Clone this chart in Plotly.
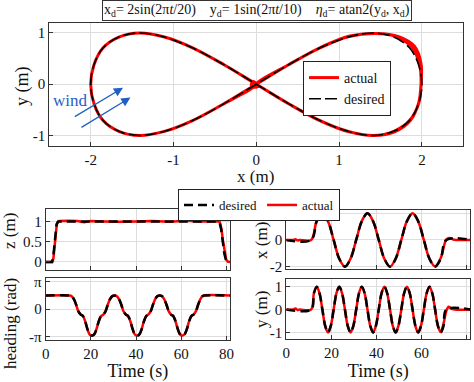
import plotly.graph_objects as go

# ---------------- data ----------------
# top: x-y path (figure eight)
path_x_des = [0, .39, .77, 1.11, 1.41, 1.66, 1.85, 1.96, 2, 1.96, 1.85, 1.66, 1.41, 1.11, .77, .39,
              0, -.39, -.77, -1.11, -1.41, -1.66, -1.85, -1.96, -2, -1.96, -1.85, -1.66, -1.41, -1.11, -.77, -.39, 0]
path_y_des = [0, .38, .71, .92, 1, .92, .71, .38, 0, -.38, -.71, -.92, -1, -.92, -.71, -.38,
              0, .38, .71, .92, 1, .92, .71, .38, 0, -.38, -.71, -.92, -1, -.92, -.71, -.38, 0]
path_x_act = [0, -.04, -.06, -.02, .03, 0, .39, .78, 1.13, 1.45, 1.72, 1.91, 1.99, 1.99, 1.96, 1.86, 1.67, 1.42, 1.12, .78, .40,
              0, -.39, -.77, -1.11, -1.41, -1.66, -1.85, -1.96, -2.0, -1.96, -1.85, -1.66, -1.41, -1.11, -.77, -.39,
              0, .39, .77, 1.12, 1.43, 1.69, 1.88, 1.97, 1.99, 1.96, 1.85, 1.66, 1.41, 1.11, .77, .39,
              0, -.39, -.77, -1.11, -1.41, -1.66, -1.85, -1.96, -2, -1.96, -1.85, -1.66, -1.41, -1.11, -.77, -.39, 0]
path_y_act = [0, .05, -.02, -.06, -.03, 0, .38, .72, .94, .99, .93, .74, .40, .02, -.37, -.71, -.93, -1.0, -.93, -.72, -.39,
              0, .38, .71, .92, 1, .92, .71, .38, 0, -.38, -.71, -.92, -1, -.92, -.71, -.38,
              0, .38, .71, .93, .99, .93, .72, .39, 0, -.38, -.71, -.92, -1, -.92, -.71, -.38,
              0, .38, .71, .92, 1, .92, .71, .38, 0, -.38, -.71, -.92, -1, -.92, -.71, -.38, 0]

# z(t)
t_z_des = [0, 2.8, 3.3, 3.8, 4.3, 4.8, 5.4, 6, 76.3, 77, 77.7, 78.4, 79.1, 79.8, 80.5, 81.6]
z_des = [0, 0, .1, .4, .75, .93, .99, 1, 1, .97, .8, .5, .2, .05, 0, 0]
t_z_act = [0, 2.9, 3.4, 3.9, 4.4, 4.9, 5.5, 6, 10, 14, 17, 20, 26, 32, 40, 47, 55, 62, 68, 74, 76.4, 77.1, 77.8, 78.5, 79.2, 79.9, 80.6, 81.6]
z_act = [0, 0, .08, .36, .72, .92, 1.0, 1.01, 1.02, 1.01, .98, 1.01, 1.0, .99, 1.0, 1.01, .99, 1.02, 1.0, 1.01, 1.0, .98, .82, .52, .22, .06, .01, 0]

# heading(t)
t_h = [0, 10.5, 11.5, 12.5, 13.5, 14.5, 15.5, 16.5, 17.5, 18.5, 19.5, 20.5,
       21.5, 22.5, 23.5, 24.5, 25.5, 26.5, 27.5, 28.5, 29.5, 30.5,
       31.5, 32.5, 33.5, 34.5, 35.5, 36.5, 37.5, 38.5, 39.5, 40.5,
       41.5, 42.5, 43.5, 44.5, 45.5, 46.5, 47.5, 48.5, 49.5, 50.5,
       51.5, 52.5, 53.5, 54.5, 55.5, 56.5, 57.5, 58.5, 59.5, 60.5,
       61.5, 62.5, 63.5, 64.5, 65.5, 66.5, 67.5, 68.5, 69.5, 70.5, 81.6]
h_des = [1.57, 1.57, 1.5, 1.15, .5, -.25, -.62, -.8, -1.4, -2.3, -2.9, -3.05,
         -2.9, -2.3, -1.4, -.8, -.62, -.25, .5, 1.15, 1.5, 1.57,
         1.5, 1.15, .5, -.25, -.62, -.8, -1.4, -2.3, -2.9, -3.05,
         -2.9, -2.3, -1.4, -.8, -.62, -.25, .5, 1.15, 1.5, 1.57,
         1.5, 1.15, .5, -.25, -.62, -.8, -1.4, -2.3, -2.9, -3.05,
         -2.9, -2.3, -1.4, -.8, -.62, -.25, .5, 1.15, 1.5, 1.57, 1.57]
h_act = [1.57, 1.57, 1.49, 1.12, .47, -.27, -.6, -.78, -1.43, -2.33, -2.92, -3.04,
         -2.88, -2.27, -1.37, -.82, -.64, -.22, .53, 1.17, 1.5, 1.58,
         1.49, 1.13, .47, -.27, -.6, -.82, -1.42, -2.31, -2.92, -3.06,
         -2.88, -2.28, -1.38, -.78, -.6, -.23, .52, 1.16, 1.51, 1.57,
         1.49, 1.12, .48, -.26, -.63, -.81, -1.43, -2.32, -2.91, -3.04,
         -2.89, -2.28, -1.38, -.79, -.61, -.23, .52, 1.16, 1.5, 1.59, 1.57]

# x(t)
t_x_des = [0, 11, 13.5, 16, 18.5, 21, 23.5, 26, 28.5, 31, 33.5, 36, 38.5, 41, 43.5, 46, 48.5, 51,
           53.5, 56, 58.5, 61, 63.5, 66, 68.5, 71, 81.6]
x_des = [0, 0, 1.41, 2, 1.41, 0, -1.41, -2, -1.41, 0, 1.41, 2, 1.41, 0, -1.41, -2, -1.41, 0,
         1.41, 2, 1.41, 0, -1.41, -2, -1.41, 0, 0]
t_x_act = [0, 3, 4, 5, 6, 11, 13.5, 16, 18.5, 21, 23.5, 26, 28.5, 31, 33.5, 36, 38.5, 41, 43.5, 46, 48.5, 51,
           53.5, 56, 58.5, 61, 63.5, 66, 68.5, 71, 72.5, 74, 76, 81.6]
x_act = [0, 0, .05, -.03, 0, 0, 1.43, 2, 1.4, 0, -1.42, -2, -1.4, 0, 1.42, 2, 1.4, 0, -1.42, -2, -1.4, 0,
         1.42, 2, 1.4, 0, -1.42, -1.98, -1.35, .05, .15, .03, 0, 0]

# y(t)
t_y_des = [0, 11, 12.25, 13.5, 14.75, 16, 17.25, 18.5, 19.75, 21, 22.25, 23.5, 24.75, 26, 27.25, 28.5, 29.75,
           31, 32.25, 33.5, 34.75, 36, 37.25, 38.5, 39.75, 41, 42.25, 43.5, 44.75, 46, 47.25, 48.5, 49.75,
           51, 52.25, 53.5, 54.75, 56, 57.25, 58.5, 59.75, 61, 62.25, 63.5, 64.75, 66, 67.25, 68.5, 69.75, 71, 81.6]
y_des = [0, 0, .71, 1, .71, 0, -.71, -1, -.71, 0, .71, 1, .71, 0, -.71, -1, -.71,
         0, .71, 1, .71, 0, -.71, -1, -.71, 0, .71, 1, .71, 0, -.71, -1, -.71,
         0, .71, 1, .71, 0, -.71, -1, -.71, 0, .71, 1, .71, 0, -.71, -1, -.71, 0, 0]
t_y_act = [0, 3, 4, 5, 6, 11, 12.25, 13.5, 14.75, 16, 17.25, 18.5, 19.75, 21, 22.25, 23.5, 24.75, 26, 27.25, 28.5, 29.75,
           31, 32.25, 33.5, 34.75, 36, 37.25, 38.5, 39.75, 41, 42.25, 43.5, 44.75, 46, 47.25, 48.5, 49.75,
           51, 52.25, 53.5, 54.75, 56, 57.25, 58.5, 59.75, 61, 62.25, 63.5, 64.75, 66, 67.25, 68.5, 69.75, 71,
           72, 73, 74.5, 81.6]
y_act = [0, 0, .05, -.02, 0, 0, .72, 1, .7, 0, -.72, -1, -.7, 0, .72, 1, .7, 0, -.72, -1, -.7,
         0, .72, 1, .7, 0, -.72, -1, -.7, 0, .72, 1, .7, 0, -.72, -1, -.7,
         0, .72, 1, .7, 0, -.72, -1, -.7, 0, .72, 1, .7, 0, -.72, -.98, -.6, -.05,
         .12, .04, 0, 0]

title_text = ("x<sub>d</sub>= 2sin(2π<i>t</i>/20)\u00a0\u00a0\u00a0\u00a0y<sub>d</sub>= 1sin(2π<i>t</i>/10)"
              "\u00a0\u00a0\u00a0\u00a0<i>η</i><sub>d</sub>= atan2(y<sub>d</sub>, x<sub>d</sub>)")

# ---------------- styles ----------------
RED = "#ff0000"
BLACK = "#000000"
SERIF = "Liberation Serif"
W, H = 474, 382

fig = go.Figure()

# top plot
fig.add_trace(go.Scatter(x=path_x_act, y=path_y_act, mode="lines", name="actual",
                         line=dict(color=RED, width=3, shape="spline"), xaxis="x", yaxis="y",
                         legend="legend"))
fig.add_trace(go.Scatter(x=path_x_des, y=path_y_des, mode="lines", name="desired",
                         line=dict(color=BLACK, width=1.6, dash="12px,4px", shape="spline"),
                         xaxis="x", yaxis="y", legend="legend"))

# bottom panels
panels = [("x2", "y2", t_z_act, z_act, t_z_des, z_des),
          ("x3", "y3", t_h, h_act, t_h, h_des),
          ("x4", "y4", t_x_act, x_act, t_x_des, x_des),
          ("x5", "y5", t_y_act, y_act, t_y_des, y_des)]
for i, (xa, ya, ta, va, td, vd) in enumerate(panels):
    shp = "linear" if xa == "x2" else "spline"
    fig.add_trace(go.Scatter(x=ta, y=va, mode="lines", name="actual", legend="legend2",
                             legendrank=2, showlegend=(i == 0),
                             line=dict(color=RED, width=2.5, shape=shp), xaxis=xa, yaxis=ya))
    fig.add_trace(go.Scatter(x=td, y=vd, mode="lines", name="desired", legend="legend2",
                             legendrank=1, showlegend=(i == 0),
                             line=dict(color=BLACK, width=2.5, dash="9px,5px", shape=shp),
                             xaxis=xa, yaxis=ya))

axcommon = dict(showline=True, linecolor="#333333", linewidth=1, mirror=True, ticks="inside",
                ticklen=4, tickcolor="#333333", showgrid=True, gridcolor="#dddddd", gridwidth=1,
                zeroline=False, tickfont=dict(family=SERIF, size=15, color="#111"),
                title_font=dict(family=SERIF, size=18, color="#111"), automargin=False)


def dom(a, b, total):
    return [a / total, b / total]


def ydom(top, bottom):
    return [1 - bottom / H, 1 - top / H]


fig.update_layout(
    width=W, height=H, margin=dict(l=0, r=0, t=0, b=0, autoexpand=False),
    paper_bgcolor="white", plot_bgcolor="white",
    font=dict(family=SERIF, color="#111"),
    xaxis=dict(axcommon, domain=dom(49.3, 463.3, W), range=[-2.5, 2.5],
               tickvals=[-2, -1, 0, 1, 2], ticktext=["-2", "-1", "0", "1", "2"], anchor="y"),
    yaxis=dict(axcommon, domain=ydom(22.7, 145.7), range=[-1.2, 1.2],
               tickvals=[-1, 0, 1], ticktext=["-1", "0", "1"], anchor="x"),
    xaxis2=dict(axcommon, domain=dom(45.7, 230, W), range=[0, 81.6], tickvals=[0, 20, 40, 60, 80],
                showticklabels=False, anchor="y2"),
    yaxis2=dict(axcommon, domain=ydom(209.3, 270), range=[-0.2, 1.3], tickvals=[0, 0.5, 1],
                ticktext=["0", "0.5", "1"], anchor="x2"),
    xaxis3=dict(axcommon, domain=dom(45.7, 230, W), range=[0, 81.6], tickvals=[0, 20, 40, 60, 80],
                title=dict(text="Time (s)", standoff=2), anchor="y3"),
    yaxis3=dict(axcommon, domain=ydom(278.3, 340), range=[-3.55, 3.55],
                tickvals=[-3.14159, 0, 3.14159], ticktext=["-π", "0", "π"], anchor="x3"),
    xaxis4=dict(axcommon, domain=dom(286.3, 470.3, W), range=[0, 81.6], tickvals=[0, 20, 40, 60, 80],
                showticklabels=False, anchor="y4"),
    yaxis4=dict(axcommon, domain=ydom(210, 269.3), range=[-2.2, 2.25], tickvals=[-2, 0, 2],
                ticktext=["-2", "0", "2"], anchor="x4"),
    xaxis5=dict(axcommon, domain=dom(286.3, 470.3, W), range=[0, 81.6], tickvals=[0, 20, 40, 60, 80],
                title=dict(text="Time (s)", standoff=2), anchor="y5"),
    yaxis5=dict(axcommon, domain=ydom(279.3, 339.3), range=[-1.3, 1.32], tickvals=[-1, 0, 1],
                ticktext=["-1", "0", "1"], anchor="x5"),
    legend=dict(x=303 / W, y=1 - 61 / H, xanchor="left", yanchor="top", bgcolor="white",
                bordercolor="#222", borderwidth=1, font=dict(family=SERIF, size=14),
                tracegroupgap=0),
    legend2=dict(x=178 / W, y=1 - 189 / H, xanchor="left", yanchor="top", orientation="h",
                 bgcolor="white", bordercolor="#222", borderwidth=1, itemwidth=30,
                 font=dict(family=SERIF, size=13)),
    showlegend=True,
)

# axis titles placed as text
ytitles = [("y (m)", 23, 86, 18, -90), ("z (m)", 9, 231, 17, -90), ("heading (rad)", 10, 324, 17, -90),
           ("x (m)", 261, 241, 17, -90), ("y (m)", 261, 310, 17, -90), ("x (m)", 256, 176, 17, 0)]
for txt, px, py, fs, ang in ytitles:
    fig.add_annotation(text=txt, xref="paper", yref="paper", x=px / W, y=1 - py / H,
                       xanchor="center", yanchor="middle", textangle=ang, showarrow=False,
                       font=dict(family=SERIF, size=fs, color="#111"))

# title box
fig.add_annotation(text=title_text, xref="paper", yref="paper", x=256.5 / W, y=1.0,
                   xanchor="center", yanchor="top", showarrow=False,
                   font=dict(family=SERIF, size=14, color="#111"),
                   bordercolor="#333", borderwidth=1, borderpad=1, bgcolor="white")

# wind arrows
WIND = "#1f5fc4"
for (hx, hy, tx, ty) in [(-1.61, -0.07, -2.21, -0.65), (-1.52, -0.26, -2.13, -0.86)]:
    fig.add_annotation(x=hx, y=hy, ax=tx, ay=ty, xref="x", yref="y", axref="x", ayref="y",
                       showarrow=True, arrowhead=2, arrowsize=1.4, arrowwidth=1.3,
                       arrowcolor=WIND, text="")
fig.add_annotation(x=-2.25, y=-0.32, xref="x", yref="y", text="wind", showarrow=False,
                   font=dict(family=SERIF, size=17, color=WIND))

fig.write_html("out.html", config={"displayModeBar": False},
               post_script="document.body.style.margin='0';document.body.style.overflow='hidden';")
